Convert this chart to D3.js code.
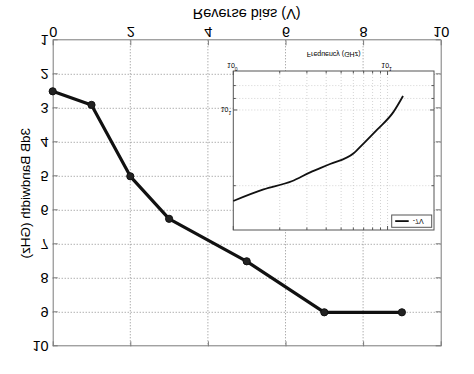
<!DOCTYPE html>
<html>
<head>
<meta charset="utf-8">
<script src="https://cdn.jsdelivr.net/npm/d3@7"></script>
<style>
  html, body { margin: 0; padding: 0; background: #fff; }
  svg { display: block; font-family: Arial, "Liberation Sans", sans-serif; }
</style>
</head>
<body>
<div id="container"></div>
<script>
// main plot: 3dB bandwidth vs reverse bias
const biasV = [0, 1, 2, 3, 5, 7, 9];
const bandwidthGHz = [2.5, 2.9, 5.0, 6.25, 7.5, 9.0, 9.0];
const biasTicks = [0, 2, 4, 6, 8, 10];
const bandwidthTicks = [1, 2, 3, 4, 5, 6, 7, 8, 9, 10];

// inset: response vs frequency (log-log)
const freqGHz = [1, 1.57, 2.39, 3.15, 4.24, 6.0, 6.98, 8.53, 10.9, 12.6];
const responseVals = [23.0, 20.7, 19.2, 17.7, 16.4, 14.9, 13.6, 12.0, 10.2, 8.8];
const freqMajorTicks = [1, 10];
const freqMinorTicks = [2, 3, 4, 5, 6, 7, 8, 9];
const responseMajorTicks = [10];
const responseMinorTicks = [8, 9, 20];
const legendLabel = '-7V';

const W = 474, H = 374;
const frameColor = '#7a7a7a';
const gridColor = '#8c8c8c';

const svg = d3.select('#container').append('svg')
    .attr('width', W)
    .attr('height', H);

svg.append('rect').attr('width', W).attr('height', H).attr('fill', '#fff');

// the whole figure is mirrored top to bottom
const root = svg.append('g')
    .attr('transform', `translate(0, ${H}) scale(1, -1)`);

/* ---------- main plot ---------- */
const x = d3.scaleLinear().domain([0, 10]).range([52.7, 440.7]);
const y = d3.scaleLinear().domain([1, 10]).range([333.7, 27.7]);

const main = root.append('g').attr('class', 'main');

// grid
main.append('g').selectAll('line')
    .data(biasTicks.slice(1, -1))
    .join('line')
    .attr('x1', (d) => x(d)).attr('x2', (d) => x(d))
    .attr('y1', y(1)).attr('y2', y(10))
    .attr('stroke', gridColor).attr('stroke-width', 1)
    .attr('stroke-dasharray', '1,2');

main.append('g').selectAll('line')
    .data(bandwidthTicks.slice(1, -1))
    .join('line')
    .attr('x1', x(0)).attr('x2', x(10))
    .attr('y1', (d) => y(d)).attr('y2', (d) => y(d))
    .attr('stroke', gridColor).attr('stroke-width', 1)
    .attr('stroke-dasharray', '1,2');

// axes
const xAxis = main.append('g')
    .attr('transform', `translate(0, ${y(1)})`)
    .call(d3.axisBottom(x).tickValues(biasTicks).tickSizeInner(-5).tickSizeOuter(0).tickPadding(3.5));

const yAxis = main.append('g')
    .attr('transform', `translate(${x(0)}, 0)`)
    .call(d3.axisLeft(y).tickValues(bandwidthTicks).tickSizeInner(-5).tickSizeOuter(0).tickPadding(4));

const xAxisTop = main.append('g')
    .attr('transform', `translate(0, ${y(10)})`)
    .call(d3.axisTop(x).tickValues(biasTicks).tickSizeInner(-5).tickSizeOuter(0).tickFormat(''));

const yAxisRight = main.append('g')
    .attr('transform', `translate(${x(10)}, 0)`)
    .call(d3.axisRight(y).tickValues(bandwidthTicks).tickSizeInner(-5).tickSizeOuter(0).tickFormat(''));

[xAxis, yAxis, xAxisTop, yAxisRight].forEach((a) => {
    a.select('.domain').attr('stroke', frameColor);
    a.selectAll('.tick line').attr('stroke', frameColor);
    a.selectAll('.tick text')
        .attr('fill', '#000')
        .attr('font-size', 14.5)
        .attr('font-family', 'Arial, "Liberation Sans", sans-serif');
});

main.append('text')
    .attr('x', (x(0) + x(10)) / 2)
    .attr('y', 365)
    .attr('text-anchor', 'middle')
    .attr('font-size', 14.5)
    .text('Reverse bias (V)');

main.append('text')
    .attr('transform', `translate(29.5, ${(y(1) + y(10)) / 2}) rotate(-90)`)
    .attr('text-anchor', 'middle')
    .attr('font-size', 13.5)
    .text('3dB Bandwidth (GHz)');

// data line
const mainPoints = biasV.map((v, i) => [v, bandwidthGHz[i]]);

main.append('path')
    .datum(mainPoints)
    .attr('fill', 'none')
    .attr('stroke', '#111')
    .attr('stroke-width', 3.2)
    .attr('stroke-linejoin', 'round')
    .attr('d', d3.line().x((d) => x(d[0])).y((d) => y(d[1])));

main.append('g').selectAll('circle')
    .data(mainPoints)
    .join('circle')
    .attr('cx', (d) => x(d[0]))
    .attr('cy', (d) => y(d[1]))
    .attr('r', 3.6)
    .attr('fill', '#222')
    .attr('stroke', '#111')
    .attr('stroke-width', 1);

/* ---------- inset ---------- */
const xi = d3.scaleLog().domain([1, 20]).range([233.3, 434]);
const yi = d3.scaleLog().domain([7, 30]).range([303, 144]);

const inset = root.append('g').attr('class', 'inset');

inset.append('rect')
    .attr('x', xi(1)).attr('y', yi(30))
    .attr('width', xi(20) - xi(1)).attr('height', yi(7) - yi(30))
    .attr('fill', '#fff');

inset.append('g').selectAll('line')
    .data(freqMinorTicks.concat([10]))
    .join('line')
    .attr('x1', (d) => xi(d)).attr('x2', (d) => xi(d))
    .attr('y1', yi(7)).attr('y2', yi(30))
    .attr('stroke', '#c8c8c8').attr('stroke-width', 0.8)
    .attr('stroke-dasharray', '1,2');

inset.append('g').selectAll('line')
    .data(responseMinorTicks.concat(responseMajorTicks))
    .join('line')
    .attr('x1', xi(1)).attr('x2', xi(20))
    .attr('y1', (d) => yi(d)).attr('y2', (d) => yi(d))
    .attr('stroke', '#c8c8c8').attr('stroke-width', 0.8)
    .attr('stroke-dasharray', '1,2');

// inward ticks on all four sides
const insetTicksX = freqMajorTicks.map((d) => ({v: d, len: 4})).concat(freqMinorTicks.map((d) => ({v: d, len: 2.5})));
const insetTicksY = responseMajorTicks.map((d) => ({v: d, len: 4})).concat(responseMinorTicks.map((d) => ({v: d, len: 2.5})));

inset.append('g').selectAll('line')
    .data(insetTicksX)
    .join('line')
    .attr('x1', (d) => xi(d.v)).attr('x2', (d) => xi(d.v))
    .attr('y1', yi(7)).attr('y2', (d) => yi(7) - d.len)
    .attr('stroke', '#555');
inset.append('g').selectAll('line')
    .data(insetTicksX)
    .join('line')
    .attr('x1', (d) => xi(d.v)).attr('x2', (d) => xi(d.v))
    .attr('y1', yi(30)).attr('y2', (d) => yi(30) + d.len)
    .attr('stroke', '#555');
inset.append('g').selectAll('line')
    .data(insetTicksY)
    .join('line')
    .attr('y1', (d) => yi(d.v)).attr('y2', (d) => yi(d.v))
    .attr('x1', xi(1)).attr('x2', (d) => xi(1) + d.len)
    .attr('stroke', '#555');
inset.append('g').selectAll('line')
    .data(insetTicksY)
    .join('line')
    .attr('y1', (d) => yi(d.v)).attr('y2', (d) => yi(d.v))
    .attr('x1', xi(20)).attr('x2', (d) => xi(20) - d.len)
    .attr('stroke', '#555');

inset.append('rect')
    .attr('x', xi(1)).attr('y', yi(30))
    .attr('width', xi(20) - xi(1)).attr('height', yi(7) - yi(30))
    .attr('fill', 'none')
    .attr('stroke', '#555')
    .attr('stroke-width', 1);

// tick labels written as 10 with superscript exponent
function powerLabel(sel) {
    sel.append('tspan').text('10');
    sel.append('tspan')
        .attr('font-size', 5)
        .attr('dy', -3.5)
        .text((d) => Math.round(Math.log10(d)));
}

inset.append('g').selectAll('text')
    .data(freqMajorTicks)
    .join('text')
    .attr('x', (d) => xi(d) - 1)
    .attr('y', 310.7)
    .attr('text-anchor', 'middle')
    .attr('font-size', 7)
    .call(powerLabel);

inset.append('g').selectAll('text')
    .data(responseMajorTicks)
    .join('text')
    .attr('x', xi(1) - 2)
    .attr('y', (d) => yi(d) + 2.5)
    .attr('text-anchor', 'end')
    .attr('font-size', 7)
    .call(powerLabel);

inset.append('text')
    .attr('x', (xi(1) + xi(20)) / 2)
    .attr('y', 322)
    .attr('text-anchor', 'middle')
    .attr('font-size', 7)
    .text('Frequency (GHz)');

inset.append('path')
    .datum(freqGHz.map((f, i) => [f, responseVals[i]]))
    .attr('fill', 'none')
    .attr('stroke', '#111')
    .attr('stroke-width', 1.8)
    .attr('d', d3.line().curve(d3.curveMonotoneX).x((d) => xi(d[0])).y((d) => yi(d[1])));

// legend
const legend = inset.append('g').attr('transform', 'translate(391.7, 146.7)');
legend.append('rect')
    .attr('width', 40).attr('height', 12.3)
    .attr('fill', '#fff')
    .attr('stroke', '#555')
    .attr('stroke-width', 1);
legend.append('line')
    .attr('x1', 3.5).attr('x2', 17)
    .attr('y1', 6.2).attr('y2', 6.2)
    .attr('stroke', '#111')
    .attr('stroke-width', 1.8);
legend.append('text')
    .attr('x', 21)
    .attr('y', 8.7)
    .attr('font-size', 7)
    .text(legendLabel);
</script>
</body>
</html>
